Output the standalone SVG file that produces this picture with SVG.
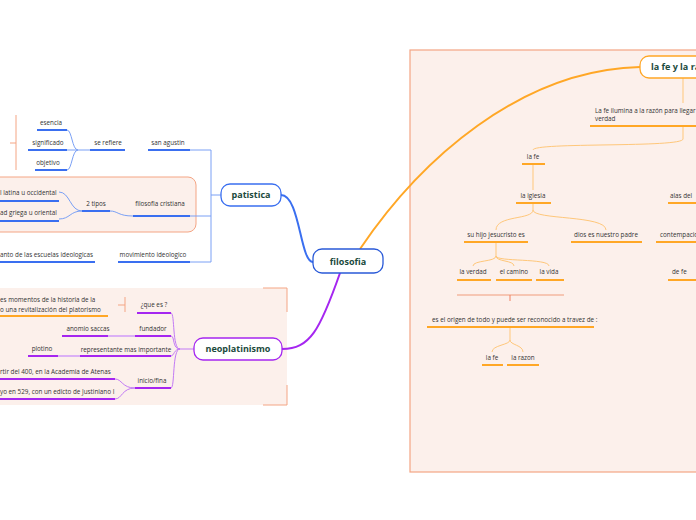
<svg xmlns="http://www.w3.org/2000/svg" width="696" height="520" viewBox="0 0 696 520">
<style>
text{font-family:"Open Sans","Noto Sans",sans-serif;font-size:6.3px;fill:#333}
.n{font-size:9px;font-weight:bold;fill:#1b4a3c;text-anchor:middle}
.ns{font-size:9px;font-weight:bold;fill:#1b4a3c}
.b{stroke:#3a6ff0;stroke-width:2;fill:none}
.bl{stroke:#7aa0f5;stroke-width:1;fill:none}
.p{stroke:#a526f0;stroke-width:2;fill:none}
.pl{stroke:#c27af5;stroke-width:1;fill:none}
.o{stroke:#ffa726;stroke-width:2;fill:none}
.ol{stroke:#ffc77a;stroke-width:1;fill:none}
.m{text-anchor:middle}
</style>
<rect x="410" y="50" width="300" height="422" fill="#fcf0eb" stroke="#f4a584" stroke-width="1.2"/>
<rect x="-10" y="177" width="206" height="55" rx="8" fill="#fcf0eb" stroke="#f4a584"/>
<rect x="0" y="288" width="287" height="117" fill="#fcf0eb"/>
<path d="M263 288H287V312M263 405H287V385" fill="none" stroke="#f4a584"/>
<path d="M16 115V170M10 143H16" fill="none" stroke="#f4a584"/>
<path d="M125 297V312M118 305H125" fill="none" stroke="#f4a584"/>
<g id="connectors">
<path d="M313 262C300 262 300 195 281 195" class="b" stroke-width="1.5"/>
<path d="M340 273C320 330 310 349 282 349" class="p" stroke-width="1.5"/>
<path d="M360 249C420 160 520 70 640 67" class="o" stroke-width="1.5"/>
<path d="M221 195H211M211 150V262M211 150H190M211 216H190M211 262H190" class="bl"/>
<path d="M78 150C72 150 72 130 67 130M78 150H67M78 150C72 150 72 170 67 170M90 150H78" class="bl"/>
<path d="M110 211C118 211 118 216 133 216M82 211C70 211 70 192 59 192M82 211C70 211 70 219 59 219" class="bl"/>
<path d="M194 349H180M180 349C172 349 175 313 171 313M180 349C172 349 175 336 171 336M180 349C174 349 174 356 171 356M180 349C172 349 175 388 171 388" class="pl"/>
<path d="M135 388C122 388 122 379 115 379M135 388C122 388 122 399 115 399" class="pl"/>
<path d="M683 78V103M683 126V139C683 148 533 142 533 150M533 164V190M533 203V210C533 220 496 215 496 230M533 210C533 220 606 215 606 230M496 242V256C496 262 473 260 473 266M496 256C496 262 514 260 514 266M496 256C496 262 549 258 549 266M510 327V340C510 345 492 345 492 352M510 340C510 345 523 345 523 352" class="ol"/>
<path d="M457 295H564" stroke="#f4b8a0" stroke-width="1.5"/>
<path d="M510 295V301" stroke="#f08060"/>
</g>
<g id="filosofia"><rect x="313" y="249" width="70" height="24" rx="9" fill="#fff" stroke="#2a5ad8" stroke-width="1.3"/><text class="n" x="348" y="265">filosofia</text></g>
<g id="patistica"><rect x="221" y="184" width="60" height="22" rx="9" fill="#fff" stroke="#3a6ff0" stroke-width="1.3"/><text class="n" x="251" y="198">patistica</text></g>
<g id="neoplatinismo"><rect x="194" y="338" width="88" height="22" rx="9" fill="#fff" stroke="#a526f0" stroke-width="1.3"/><text class="n" x="238" y="352">neoplatinismo</text></g>
<g id="fe-razon"><rect x="640" y="56" width="80" height="22" rx="9" fill="#fff" stroke="#ffa726" stroke-width="1.3"/><text class="ns" x="651" y="70">la fe y la razon</text></g>
<g id="pat-items">
<text class="m" x="168" y="145">san agustin</text><path d="M148 150H190" class="b"/>
<text class="m" x="108" y="145">se refiere</text><path d="M90 150H125" class="b"/>
<text class="m" x="51" y="125">esencia</text><path d="M37 130H67" class="b"/>
<text class="m" x="48" y="145">significado</text><path d="M28 150H67" class="b"/>
<text class="m" x="48" y="165">objetivo</text><path d="M35 170H67" class="b"/>
<text class="m" x="160" y="206">filosofia cristiana</text><path d="M133 216H190" class="b"/>
<text class="m" x="96" y="206">2 tipos</text><path d="M82 211H110" class="b"/>
<text x="0" y="195">l latina u occidental</text><path d="M0 201H59" class="b"/>
<text x="0" y="215">ad griega u oriental</text><path d="M0 221H59" class="b"/>
<text class="m" x="153" y="257">movimiento ideologico</text><path d="M118 262H190" class="b"/>
<text x="0" y="257">anto de las escuelas ideologicas</text><path d="M0 262H95" class="b"/>
</g>
<g id="neo-items">
<text class="m" x="154" y="307">¿que es ?</text><path d="M137 313H171" class="p"/>
<text x="0" y="302">es momentos de la historia de la</text><text x="0" y="312">o una revitalización del platorismo</text><path d="M0 316H108" class="o"/>
<text class="m" x="153" y="331">fundador</text><path d="M135 336H171" class="p"/>
<text class="m" x="88" y="331">anomio saccas</text><path d="M62 336H108" class="p"/><path d="M108 336H135" stroke="#dbb0f5" stroke-width="2"/>
<text class="m" x="126" y="352">representante mas importante</text><path d="M80 356H171" class="p"/>
<text class="m" x="42" y="351">plotino</text><path d="M28 356H58" class="p"/><path d="M58 356H80" stroke="#dbb0f5" stroke-width="2"/>
<text class="m" x="152" y="383">inicio/fina</text><path d="M135 388H171" class="p"/>
<text x="0" y="374">rtir del 400, en la Academia de Atenas</text><path d="M0 379H115" class="p"/>
<text x="0" y="394">yo en 529, con un edicto de Justiniano I</text><path d="M0 399H115" class="p"/>
</g>
<g id="fe-items">
<text x="595" y="113">La fe ilumina a la razón para llegar a</text><text x="595" y="121">verdad</text><path d="M590 126H700" class="o"/>
<text class="m" x="533" y="159">la fe</text><path d="M522 164H545" class="o"/>
<text class="m" x="533" y="198">la iglesia</text><path d="M516 203H551" class="o"/>
<text class="m" x="496" y="237">su hijo jesucristo es</text><path d="M464 242H528" class="o"/>
<text class="m" x="606" y="237">dios es nuestro padre</text><path d="M571 242H642" class="o"/>
<text x="670" y="198">alas del</text><path d="M668 203H700" class="o"/>
<text x="660" y="237">contempacion</text><path d="M656 242H700" class="o"/>
<text x="672" y="274">de fe</text><path d="M668 280H700" class="o"/>
<text class="m" x="473" y="274">la verdad</text><path d="M457 280H491" class="o"/>
<text class="m" x="514" y="274">el camino</text><path d="M496 280H532" class="o"/>
<text class="m" x="549" y="274">la vida</text><path d="M536 280H564" class="o"/>
<text x="432" y="322">es el origen de todo y puede ser reconocido a travez de :</text><path d="M427 327H594" class="o"/>
<text class="m" x="492" y="360">la fe</text><path d="M482 365H503" class="o"/>
<text class="m" x="523" y="360">la razon</text><path d="M507 365H539" class="o"/>
</g>
</svg>
